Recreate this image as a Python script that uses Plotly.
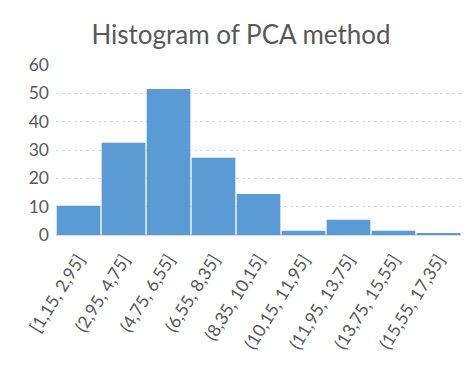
import plotly.graph_objects as go

categories = ["[1,15, 2,95]", "(2,95, 4,75]", "(4,75, 6,55]", "(6,55, 8,35]",
              "(8,35, 10,15]", "(10,15, 11,95]", "(11,95, 13,75]", "(13,75, 15,55]",
              "(15,55, 17,35]"]
counts = [10.3, 32.6, 51.5, 27.3, 14.5, 1.5, 5.4, 1.5, 0.6]
y_ticks = [0, 10, 20, 30, 40, 50, 60]

fig = go.Figure(go.Bar(x=categories, y=counts, marker_color="#5B9BD5",
                       marker_line_width=0))
fig.update_layout(
    width=466, height=366,
    margin=dict(l=48, r=13, t=57, b=139),
    paper_bgcolor="white", plot_bgcolor="white",
    bargap=0.03,
    title=dict(text="Histogram of PCA method", x=0.5, xanchor="center",
               y=0.926, yanchor="middle",
               font=dict(family="Lato, Open Sans, sans-serif", size=26, color="#595959")),
    showlegend=False,
)
fig.update_xaxes(tickangle=-58, showgrid=False, showline=False, ticks="", automargin=False,
                 ticklabelstandoff=10,
                 tickfont=dict(family="Lato, Open Sans, sans-serif", size=17.5, color="#595959"))
fig.update_yaxes(range=[0, 60], tickvals=y_ticks, showgrid=True, gridcolor="#d9d9d9",
                 griddash="dot", zeroline=True, zerolinecolor="#d9d9d9", ticks="", automargin=False,
                 ticklabelstandoff=6,
                 tickfont=dict(family="Lato, Open Sans, sans-serif", size=17.5, color="#595959"))
fig.write_html("out.html")
